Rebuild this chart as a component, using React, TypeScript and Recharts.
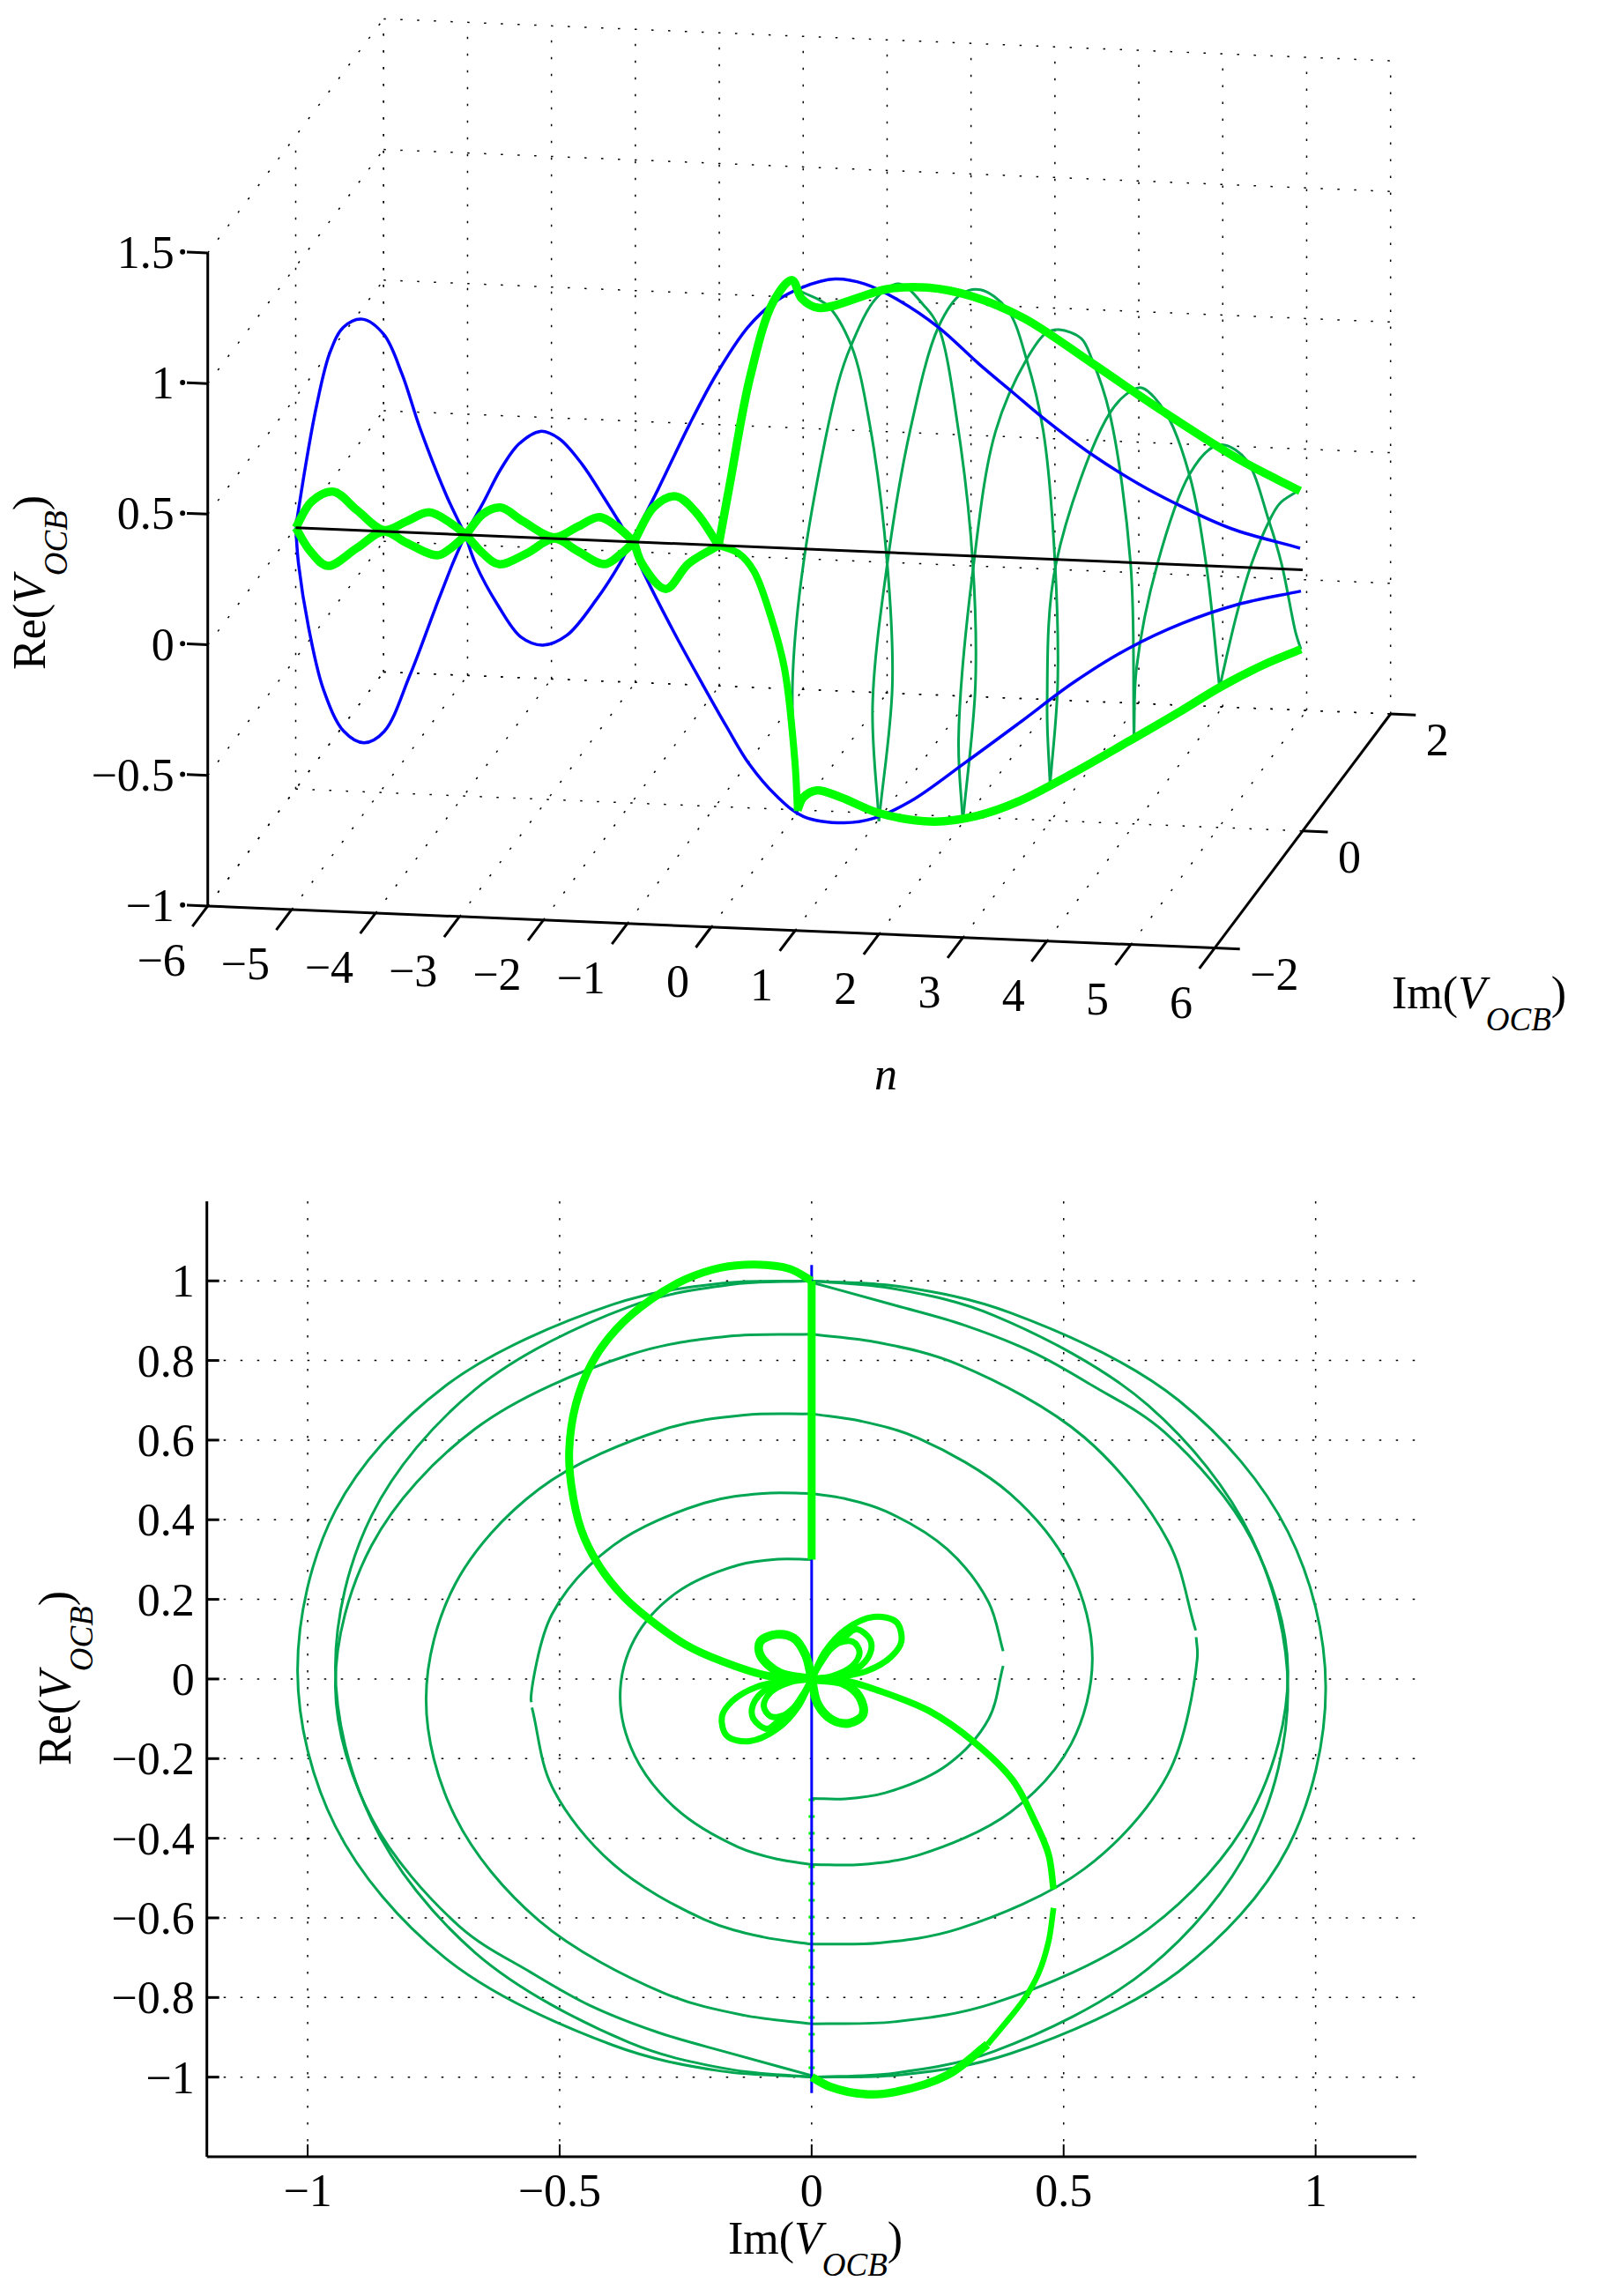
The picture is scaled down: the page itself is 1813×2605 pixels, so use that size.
import React from "react"
import { LineChart, Line, XAxis, YAxis, CartesianGrid } from "recharts"

type Pt = [number, number | null]

const BLUE = "#0000ff"
const BRIGHT = "#00ff00"
const DARK = "#00a651"
const FONT = '"Liberation Serif", serif'
const DOTS = "2.5 16.5"

const nTicks = [-6, -5, -4, -3, -2, -1, 0, 1, 2, 3, 4, 5, 6]
const imTicks = [-2, 0, 2]
const reTicks = [-1, -0.5, 0, 0.5, 1, 1.5]

const blueUp1: Pt[] = [[-6, 0], [-5.886, 0.232], [-5.753, 0.468], [-5.591, 0.677], [-5.431, 0.775], [-5.207, 0.809], [-4.95, 0.754], [-4.734, 0.606], [-4.52, 0.402], [-4.2, 0.145], [-3.98, 0]]
const blueUp2: Pt[] = [[-3.98, 0], [-3.77, 0.123], [-3.556, 0.257], [-3.341, 0.356], [-3.085, 0.408], [-2.86, 0.383], [-2.59, 0.29], [-2.324, 0.163], [-2, 0]]
const blueUp3: Pt[] = [[-2, 0], [-1.68, 0.206], [-1.306, 0.459], [-0.984, 0.656], [-0.61, 0.84], [-0.29, 0.941], [0.03, 1.0], [0.426, 1.038], [0.78, 1.024], [1.186, 0.967], [1.66, 0.87], [2.136, 0.738], [2.54, 0.634], [2.95, 0.529], [3.49, 0.407], [4.04, 0.303], [4.48, 0.234], [5.15, 0.146], [5.97, 0.082]]
const blueDn1: Pt[] = [[-6, 0], [-5.966, -0.139], [-5.848, -0.377], [-5.67, -0.614], [-5.428, -0.771], [-5.186, -0.812], [-4.944, -0.765], [-4.64, -0.547], [-4.34, -0.289], [-4.13, -0.113], [-3.98, 0]]
const blueDn2: Pt[] = [[-3.98, 0], [-3.856, -0.11], [-3.585, -0.267], [-3.314, -0.383], [-3.054, -0.41], [-2.77, -0.369], [-2.41, -0.224], [-2.14, -0.087], [-2, 0]]
const blueDn3: Pt[] = [[-2, 0], [-1.9, -0.084], [-1.505, -0.332], [-1.143, -0.539], [-0.87, -0.69], [-0.596, -0.832], [-0.273, -0.949], [0.05, -1.024], [0.534, -1.042], [0.89, -1.02], [1.337, -0.947], [1.984, -0.791], [2.63, -0.63], [3.27, -0.468], [3.92, -0.33], [4.56, -0.225], [5.21, -0.145], [5.98, -0.082]]

const thickUp1: Pt[] = [[-6, 0], [-5.81, 0.103], [-5.55, 0.144], [-5.27, 0.077], [-4.95, 0.005], [-4.68, 0.042], [-4.41, 0.08], [-4.15, 0.042], [-3.97, 0]]
const thickUp2: Pt[] = [[-3.97, 0], [-3.77, 0.082], [-3.56, 0.11], [-3.29, 0.061], [-2.92, 0.005], [-2.64, 0.049], [-2.38, 0.089], [-2.14, 0.048], [-1.97, 0]]
const thickUp3: Pt[] = [[-1.97, 0], [-1.73, 0.137], [-1.47, 0.181], [-1.23, 0.123], [-0.96, 0]]
const thickUp4: Pt[] = [[-0.96, 0], [-0.83, 0.23], [-0.585, 0.649], [-0.31, 0.94], [-0.084, 1.027], [0.03, 0.958], [0.23, 0.925], [1.05, 1.008], [1.53, 1.02], [2.07, 0.993], [2.68, 0.918], [3.49, 0.757], [4.31, 0.589], [5.26, 0.409], [5.97, 0.301]]
const thickDn1: Pt[] = [[-6, 0], [-5.83, -0.086], [-5.62, -0.141], [-5.27, -0.068], [-4.95, 0], [-4.68, -0.04], [-4.31, -0.083], [-4.15, -0.053], [-3.97, 0]]
const thickDn2: Pt[] = [[-3.97, 0], [-3.77, -0.068], [-3.58, -0.107], [-3.25, -0.062], [-2.92, 0], [-2.64, -0.044], [-2.32, -0.09], [-2.12, -0.047], [-1.97, 0]]
const thickDn3: Pt[] = [[-1.97, 0], [-1.87, -0.084], [-1.59, -0.175], [-1.32, -0.075], [-0.96, 0]]
const thickDn4: Pt[] = [[-0.96, 0], [-0.72, -0.028], [-0.54, -0.093], [-0.34, -0.262], [-0.175, -0.461], [-0.05, -0.818], [-0.02, -1.004]]
const thickDn5: Pt[] = [[-0.02, -1.0], [0.05, -0.951], [0.21, -0.922], [0.5, -0.945], [0.95, -0.999], [1.6, -1.023], [2.11, -0.995], [2.63, -0.93], [3.27, -0.814], [3.92, -0.686], [4.56, -0.558], [5.01, -0.464], [5.53, -0.371], [5.98, -0.305]]

const arch0: Pt[] = [[0.03, 0.984], [0.34, 0.935], [0.62, 0.787], [0.84, 0.489], [1.05, -0.044], [1.11, -0.512], [0.95, -1.03]]
const arch1: Pt[] = [[-0.02, -1.02], [-0.08, -0.525], [0.05, -0.058], [0.46, 0.634], [0.62, 0.787], [0.915, 0.97], [1.19, 1.03], [1.49, 0.95], [1.66, 0.871], [1.9, 0.474], [2.07, -0.031], [2.1, -0.496], [1.95, -1.02]]
const arch2: Pt[] = [[0.95, -1.03], [0.875, -0.59], [1.05, -0.044], [1.32, 0.467], [1.66, 0.871], [1.93, 1.0], [2.16, 1.02], [2.48, 0.95], [2.71, 0.761], [2.91, 0.488], [3.05, -0.018], [3.08, -0.483], [2.99, -0.865]]
const arch3: Pt[] = [[1.95, -1.02], [1.9, -0.7], [2.08, -0.03], [2.34, 0.48], [2.71, 0.761], [2.95, 0.867], [3.1, 0.88], [3.36, 0.85], [3.49, 0.771], [3.7, 0.568], [3.95, -0.005], [3.99, -0.665]]
const arch4: Pt[] = [[2.99, -0.865], [2.955, -0.559], [3.06, -0.018], [3.7, 0.568], [3.97, 0.66], [4.09, 0.67], [4.37, 0.578], [4.65, 0.346], [4.85, 0.006], [5.01, -0.464]]
const arch5: Pt[] = [[3.99, -0.665], [4.02, -0.404], [4.27, 0], [4.65, 0.346], [4.92, 0.453], [5.07, 0.465], [5.33, 0.411], [5.6, 0.18], [5.75, 0.018], [5.92, -0.246], [5.98, -0.305]]
const arch6: Pt[] = [[5.01, -0.464], [5.21, -0.187], [5.39, 0.013], [5.6, 0.18], [5.73, 0.251], [5.94, 0.3]]

// ---- bottom plot: [Im, Re] ----
const xTicks = [-1, -0.5, 0, 0.5, 1]
const yTicks = [-1, -0.8, -0.6, -0.4, -0.2, 0, 0.2, 0.4, 0.6, 0.8, 1]

const arcR1: Pt[] = [[0, -0.3], [0.066, -0.301], [0.146, -0.286], [0.269, -0.216], [0.351, -0.101], [0.38, 0.033], [0.38, null], [0.38, 0.07], [0.351, 0.193], [0.269, 0.326], [0.146, 0.422], [0.066, 0.453], [0, 0.466]]
const arcR2: Pt[] = [[0, -0.466], [0.097, -0.466], [0.213, -0.442], [0.394, -0.335], [0.515, -0.163], [0.557, 0.05], [0.515, 0.271], [0.394, 0.465], [0.213, 0.604], [0.097, 0.648], [0, 0.666]]
const arcR3: Pt[] = [[0, -0.666], [0.133, -0.663], [0.293, -0.627], [0.541, -0.477], [0.707, -0.239], [0.765, 0.05], [0.763, 0.105], [0.763, null], [0.762, 0.122], [0.707, 0.347], [0.541, 0.607], [0.293, 0.789], [0.133, 0.845], [0, 0.866]]
const arcR4: Pt[] = [[0, -0.866], [0.164, -0.861], [0.362, -0.814], [0.668, -0.628], [0.873, -0.336], [0.945, 0.02], [0.873, 0.35], [0.7, 0.62], [0.557, 0.737], [0.44, 0.82], [0.302, 0.889], [0.164, 0.939], [0, 0.996]]
const arcR5: Pt[] = [[0, -1], [0.179, -0.994], [0.394, -0.941], [0.728, -0.735], [0.945, -0.423], [1.02, -0.02], [0.945, 0.37], [0.728, 0.7], [0.394, 0.92], [0.179, 0.985], [0, 1]]
const arcR6: Pt[] = [[0, -1], [0.164, -0.99], [0.362, -0.935], [0.668, -0.727], [0.873, -0.411], [0.945, -0.03], [0.873, 0.355], [0.668, 0.687], [0.362, 0.913], [0.164, 0.98], [0, 1]]
const arcL1: Pt[] = [[0, 0.3], [-0.066, 0.301], [-0.146, 0.286], [-0.269, 0.216], [-0.351, 0.101], [-0.38, -0.043], [-0.351, -0.193], [-0.269, -0.326], [-0.146, -0.422], [-0.066, -0.453], [0, -0.466]]
const arcL2: Pt[] = [[0, 0.466], [-0.097, 0.466], [-0.213, 0.442], [-0.394, 0.335], [-0.515, 0.163], [-0.557, -0.05], [-0.556, -0.058], [-0.556, null], [-0.555, -0.072], [-0.515, -0.271], [-0.394, -0.465], [-0.213, -0.604], [-0.097, -0.648], [0, -0.666]]
const arcL3: Pt[] = [[0, 0.666], [-0.133, 0.663], [-0.293, 0.627], [-0.541, 0.477], [-0.707, 0.239], [-0.765, -0.05], [-0.707, -0.347], [-0.541, -0.607], [-0.293, -0.789], [-0.133, -0.845], [0, -0.866]]
const arcL4: Pt[] = [[0, 0.866], [-0.164, 0.861], [-0.362, 0.814], [-0.668, 0.628], [-0.873, 0.336], [-0.945, -0.02], [-0.873, -0.35], [-0.7, -0.62], [-0.557, -0.737], [-0.44, -0.82], [-0.302, -0.889], [-0.164, -0.939], [0, -0.996]]
const arcL5: Pt[] = [[0, 1], [-0.179, 0.994], [-0.394, 0.941], [-0.728, 0.735], [-0.945, 0.423], [-1.02, 0.02], [-0.945, -0.37], [-0.728, -0.7], [-0.394, -0.92], [-0.179, -0.985], [0, -1]]
const arcL6: Pt[] = [[0, 1], [-0.164, 0.99], [-0.362, 0.935], [-0.668, 0.727], [-0.873, 0.411], [-0.945, 0.03], [-0.873, -0.355], [-0.668, -0.687], [-0.362, -0.913], [-0.164, -0.98], [0, -1]]

const blueAxis: Pt[] = [[0, 1.04], [0, -1.04]]
const greenStem: Pt[] = [[0, 1], [0, 0.3]]
const greenDots: Pt[] = [[0, -0.3], [0, -1]]

const spiralLeft: Pt[] = [[0, 1.0], [-0.043, 1.03], [-0.112, 1.041], [-0.181, 1.033], [-0.25, 1.004], [-0.32, 0.952], [-0.388, 0.878], [-0.436, 0.794], [-0.468, 0.689], [-0.481, 0.576], [-0.477, 0.488], [-0.457, 0.374], [-0.423, 0.287], [-0.374, 0.208], [-0.319, 0.147], [-0.25, 0.086], [-0.181, 0.046], [-0.084, 0.007], [0, 0]]
const spiralRightA: Pt[] = [[0, 0], [0.06, -0.003], [0.13, -0.028], [0.233, -0.08], [0.323, -0.159], [0.399, -0.254], [0.44, -0.35], [0.47, -0.44], [0.48, -0.528]]
const spiralRightB: Pt[] = [[0.48, -0.575], [0.47, -0.66], [0.45, -0.74], [0.42, -0.807], [0.349, -0.918]]
const spiralRightC: Pt[] = [[0.349, -0.918], [0.269, -0.995], [0.167, -1.037], [0.107, -1.043], [0.036, -1.024], [0, -1]]

const petalUR1: Pt[] = [[0, 0], [0.026, 0.068], [0.068, 0.125], [0.123, 0.156], [0.168, 0.143], [0.178, 0.094], [0.157, 0.055], [0.109, 0.02], [0.04, 0.003], [0, 0]]
const petalUR2: Pt[] = [[0, 0], [0.026, 0.06], [0.061, 0.099], [0.088, 0.125], [0.116, 0.099], [0.116, 0.064], [0.088, 0.024], [0.04, 0.005], [0, 0]]
const petalUR3: Pt[] = [[0, 0], [0.019, 0.042], [0.047, 0.086], [0.081, 0.094], [0.095, 0.068], [0.081, 0.033], [0.04, 0.007], [0, 0]]
const petalUL: Pt[] = [[0, 0], [-0.012, 0.06], [-0.036, 0.103], [-0.07, 0.112], [-0.102, 0.094], [-0.102, 0.06], [-0.064, 0.016], [0, 0]]
const petalLR: Pt[] = [[0, 0], [0.012, -0.063], [0.04, -0.102], [0.075, -0.111], [0.102, -0.089], [0.095, -0.045], [0.061, -0.01], [0, 0]]
const petalLL1: Pt[] = [[0, 0], [-0.026, -0.068], [-0.068, -0.125], [-0.123, -0.156], [-0.168, -0.143], [-0.178, -0.094], [-0.157, -0.055], [-0.109, -0.02], [-0.04, -0.003], [0, 0]]
const petalLL2: Pt[] = [[0, 0], [-0.026, -0.06], [-0.061, -0.099], [-0.088, -0.125], [-0.116, -0.099], [-0.116, -0.064], [-0.088, -0.024], [-0.04, -0.005], [0, 0]]
const petalLL3: Pt[] = [[0, 0], [-0.019, -0.042], [-0.047, -0.086], [-0.081, -0.094], [-0.095, -0.068], [-0.081, -0.033], [-0.04, -0.007], [0, 0]]

const minus = (v: number | string) => String(v).replace("-", "\u2212")

// centripetal catmull-rom, the stock curve types wobble on unevenly spaced points
function smooth(context: any) {
  let pts: number[][] = []
  const dist = (a: number[], b: number[]) => Math.sqrt(Math.hypot(a[0] - b[0], a[1] - b[1])) || 1e-6
  return {
    areaStart() {},
    areaEnd() {},
    lineStart() {
      pts = []
    },
    point(x: number, y: number) {
      pts.push([+x, +y])
    },
    lineEnd() {
      if (!pts.length) return
      context.moveTo(pts[0][0], pts[0][1])
      for (let i = 0; i < pts.length - 1; i++) {
        const p1 = pts[i]
        const p2 = pts[i + 1]
        const p0 = pts[i - 1] || p1
        const p3 = pts[i + 2] || p2
        const t12 = dist(p1, p2)
        const tan = (k: number) => {
          const m1 = p0 === p1 ? p2[k] - p1[k] : p2[k] - p1[k] + t12 * ((p1[k] - p0[k]) / dist(p0, p1) - (p2[k] - p0[k]) / (dist(p0, p1) + t12))
          const m2 = p3 === p2 ? p2[k] - p1[k] : p2[k] - p1[k] + t12 * ((p3[k] - p2[k]) / dist(p2, p3) - (p3[k] - p1[k]) / (t12 + dist(p2, p3)))
          return [p1[k] + m1 / 3, p2[k] - m2 / 3]
        }
        const [cx1, cx2] = tan(0)
        const [cy1, cy2] = tan(1)
        context.bezierCurveTo(cx1, cy1, cx2, cy2, p2[0], p2[1])
      }
    },
  }
}

// oblique view of the 3D box: n and Im lean onto the page plane
const view = (n: number, im: number, re: number | null) => ({
  u: n + 0.524 * im,
  v: re === null ? null : re - 0.01339 * n + 0.224 * im,
})

const curve2D = (key: string, pts: Pt[], stroke: string, width: number, extra = {}) => (
  <Line
    key={key}
    data={pts.map(([x, y]) => ({ x, y }))}
    dataKey="y"
    type={smooth as any}
    stroke={stroke}
    strokeWidth={width}
    strokeLinejoin="round"
    dot={false}
    isAnimationActive={false}
    {...extra}
  />
)

const curve3D = (key: string, pts: Pt[], stroke: string, width: number, im = 0) => (
  <Line
    key={key}
    data={pts.map(([n, re]) => view(n, im, re))}
    dataKey="v"
    type={smooth as any}
    stroke={stroke}
    strokeWidth={width}
    strokeLinejoin="round"
    dot={false}
    isAnimationActive={false}
  />
)

const seg3D = (key: string, a: number[], b: number[], stroke: string, width: number, dash?: string) => (
  <Line
    key={key}
    data={[view(a[0], a[1], a[2]), view(b[0], b[1], b[2])]}
    dataKey="v"
    type="linear"
    stroke={stroke}
    strokeWidth={width}
    strokeDasharray={dash}
    dot={false}
    isAnimationActive={false}
  />
)

const labels3D = (key: string, items: { n: number; im: number; re: number; text: string }[], dx: number, dy: number, anchor: string) => (
  <Line
    key={key}
    data={items.map((d) => ({ ...view(d.n, d.im, d.re), text: d.text }))}
    dataKey="v"
    stroke="none"
    isAnimationActive={false}
    dot={(p: any) => (
      <text key={p.index} x={p.cx + dx} y={p.cy + dy} textAnchor={anchor} fontFamily={FONT} fontSize={52} fill="#000">
        {p.payload.text}
      </text>
    )}
  />
)

const gridLines = [
  ...nTicks.map((n) => seg3D(`back-n${n}`, [n, 2, -1], [n, 2, 1.5], "#000", 1.5, DOTS)),
  ...reTicks.map((r) => seg3D(`back-r${r}`, [-6, 2, r], [6, 2, r], "#000", 1.5, DOTS)),
  ...imTicks.slice(1).map((i) => seg3D(`left-i${i}`, [-6, i, -1], [-6, i, 1.5], "#000", 1.5, DOTS)),
  ...reTicks.map((r) => seg3D(`left-r${r}`, [-6, -2, r], [-6, 2, r], "#000", 1.5, DOTS)),
  ...nTicks.map((n) => seg3D(`floor-n${n}`, [n, -2, -1], [n, 2, -1], "#000", 1.5, DOTS)),
  ...imTicks.slice(1).map((i) => seg3D(`floor-i${i}`, [-6, i, -1], [6, i, -1], "#000", 1.5, DOTS)),
]

const axisLines = [
  seg3D("axis-re", [-6, -2, -1], [-6, -2, 1.5], "#000", 3),
  seg3D("axis-n", [-6, -2, -1], [6, -2, -1], "#000", 3),
  seg3D("axis-im", [6, -2, -1], [6, 2, -1], "#000", 3),
  ...reTicks.map((r) => seg3D(`tick-r${r}`, [-6, -2, r], [-6.3, -2, r], "#000", 3)),
  ...nTicks.map((n) => seg3D(`tick-n${n}`, [n, -2, -1], [n, -2.35, -1], "#000", 3)),
  ...imTicks.map((i) => seg3D(`tick-i${i}`, [6, i, -1], [6.3, i, -1], "#000", 3)),
]

function Title({ x, y, rotate, head }: { x: number; y: number; rotate?: boolean; head: string }) {
  return (
    <text x={x} y={y} transform={rotate ? `rotate(-90 ${x} ${y})` : undefined} fontFamily={FONT} fontSize={52} fill="#000">
      {head}(<tspan fontStyle="italic">V</tspan>
      <tspan fontStyle="italic" fontSize={37} dy={25}>OCB</tspan>
      <tspan dy={-25}>)</tspan>
    </text>
  )
}

function XTick({ x, y, payload }: any) {
  return (
    <g>
      <line x1={x} x2={x} y1={y} y2={y - 14} stroke="#000" strokeWidth={2} />
      <text x={x} y={y + 56} textAnchor="middle" fontFamily={FONT} fontSize={52} fill="#000">{minus(payload.value)}</text>
    </g>
  )
}

function YTick({ x, y, payload }: any) {
  return (
    <g>
      <line x1={x} x2={x + 14} y1={y} y2={y} stroke="#000" strokeWidth={3} />
      <text x={x - 14} y={y + 18} textAnchor="end" fontFamily={FONT} fontSize={52} fill="#000">{minus(payload.value)}</text>
    </g>
  )
}

export default function App() {
  return (
    <div style={{ position: "absolute", left: 0, top: 0, width: 1813, height: 2605, background: "#fff" }}>
      <div style={{ position: "absolute", left: 0, top: 0 }}>
        <LineChart width={1813} height={1320} margin={{ top: 0, right: 0, bottom: 0, left: 0 }}>
          <XAxis hide type="number" dataKey="u" domain={[-9.524, 9.52]} />
          <YAxis hide type="number" domain={[-2.353, 2.1005]} />
          {gridLines}
          {[arch0, arch1, arch2, arch3, arch4, arch5, arch6].map((a, i) => curve3D(`arch${i}`, a, DARK, 3))}
          {[blueUp1, blueUp2, blueUp3, blueDn1, blueDn2, blueDn3].map((a, i) => curve3D(`blue${i}`, a, BLUE, 3.5))}
          {[thickUp1, thickUp2, thickUp3, thickUp4, thickDn1, thickDn2, thickDn3, thickDn5].map((a, i) => curve3D(`thick${i}`, a, BRIGHT, 9.5))}
          {curve3D("thickTip", thickDn4, BRIGHT, 8)}
          {seg3D("zero", [-6, 0, 0], [6, 0, 0], "#000", 3)}
          {axisLines}
          {labels3D("lab-re", reTicks.map((r) => ({ n: -6, im: -2, re: r, text: minus(r) })), -38, 17, "end")}
          {labels3D("lab-n", nTicks.map((n) => ({ n, im: -2, re: -1, text: minus(n) })), -25, 79, "end")}
          {labels3D("lab-im", imTicks.map((i) => ({ n: 6, im: i, re: -1, text: minus(i) })), 40, 47, "start")}
        </LineChart>
      </div>
      <div style={{ position: "absolute", left: 0, top: 1340 }}>
        <LineChart width={1813} height={1265} margin={{ top: 22.9, right: 206, bottom: 58, left: 34.7 }}>
          <CartesianGrid stroke="#000" strokeWidth={1.5} strokeDasharray={DOTS} syncWithTicks />
          <XAxis
            type="number"
            dataKey="x"
            domain={[-1.2, 1.2]}
            ticks={xTicks}
            interval={0}
            height={100}
            tickSize={0}
            tickMargin={0}
            tick={XTick}
            axisLine={{ stroke: "#000", strokeWidth: 3 }}
          />
          <YAxis
            type="number"
            domain={[-1.2, 1.2]}
            ticks={yTicks}
            interval={0}
            width={200}
            tickSize={0}
            tickMargin={0}
            tick={YTick}
            axisLine={{ stroke: "#000", strokeWidth: 3 }}
          />
          {curve2D("dots", greenDots, BRIGHT, 7, { type: "linear", strokeDasharray: "3 16" })}
          {[arcR1, arcR2, arcR3, arcR4, arcR5, arcR6, arcL1, arcL2, arcL3, arcL4, arcL5, arcL6].map((a, i) => curve2D(`arc${i}`, a, DARK, 3))}
          {curve2D("blueAxis", blueAxis, BLUE, 3, { type: "linear" })}
          {curve2D("stem", greenStem, BRIGHT, 9, { type: "linear" })}
          {curve2D("spiralLeft", spiralLeft, BRIGHT, 9)}
          {curve2D("spiralRightA", spiralRightA, BRIGHT, 7.5)}
          {curve2D("spiralRightB", spiralRightB, BRIGHT, 6.5)}
          {curve2D("spiralRightC", spiralRightC, BRIGHT, 9.5)}
          {[petalUR1, petalUR2, petalUR3, petalLL1, petalLL2, petalLL3].map((a, i) => curve2D(`petalA${i}`, a, BRIGHT, 7))}
          {[petalUL, petalLR].map((a, i) => curve2D(`petalB${i}`, a, BRIGHT, 10))}
        </LineChart>
      </div>
      <svg width={1813} height={2605} style={{ position: "absolute", left: 0, top: 0, pointerEvents: "none" }}>
        <Title x={51} y={760} rotate head="Re" />
        <Title x={1579} y={1144} head="Im" />
        <text x={992} y={1236} fontFamily={FONT} fontSize={52} fontStyle="italic" fill="#000">n</text>
        <Title x={80} y={2003} rotate head="Re" />
        <Title x={826} y={2557} head="Im" />
      </svg>
    </div>
  )
}
